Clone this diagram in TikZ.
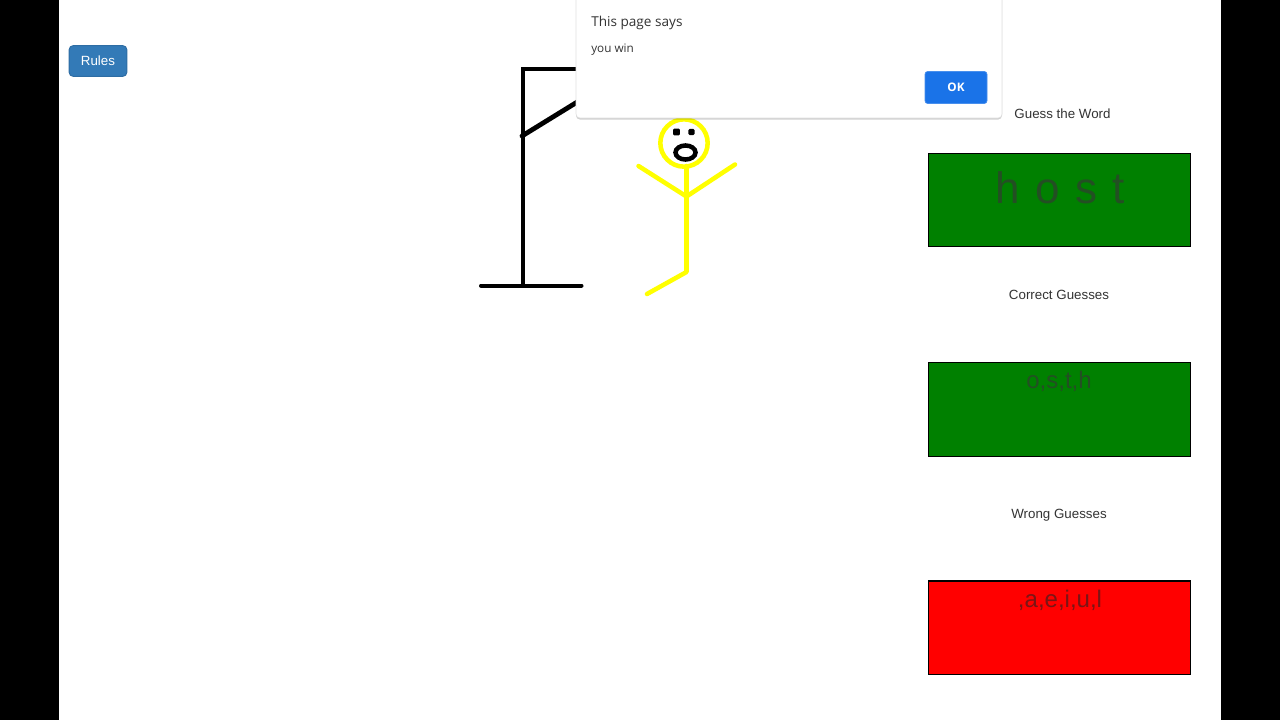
\documentclass[tikz,border=0pt]{standalone}
\usepackage{fontspec}
\setmainfont{Liberation Sans}
\newfontfamily\dialogfont{Open Sans}
\usetikzlibrary{shadows,calc,shapes.geometric}
\definecolor{btnblue}{HTML}{337AB7}
\definecolor{btnedge}{HTML}{2E6DA4}
\definecolor{okblue}{HTML}{1A73E8}
\definecolor{webgreen}{HTML}{008000}
\definecolor{txt}{HTML}{333333}
\definecolor{greentxt}{HTML}{234F23}
\definecolor{redtxt}{HTML}{7A1515}
\definecolor{figyellow}{HTML}{FFFF00}
\tikzset{
  x=0.75pt,y=-0.75pt,
  sidebar/.style={fill=black,draw=none},
  wood/.style={draw=black,line width=3pt,line cap=round,line join=miter},
  figure line/.style={draw=figyellow,line width=3.4pt,line cap=round,line join=round},
  panel/.style={draw=black,line width=0.85pt,minimum width=196.9pt,minimum height=70.2pt,inner sep=0pt},
  heading/.style={text=txt,font=\fontsize{10}{12}\selectfont,inner sep=0pt},
  guess/.style={font=\fontsize{18}{21}\selectfont,inner sep=0pt},
  dialogbox/.style={fill=white,draw=black!12,line width=0.4pt,rounded corners=3pt,
    drop shadow={shadow xshift=0pt,shadow yshift=-1.2pt,fill=black,opacity=0.18}},
}
\begin{document}
\begin{tikzpicture}
\useasboundingbox (0,0) rectangle (1280,720);
\fill[white] (0,0) rectangle (1280,720);
\path[sidebar] (0,0) rectangle (59,720);
\path[sidebar] (1221,0) rectangle (1280,720);
% Rules button
\node[fill=btnblue,draw=btnedge,line width=0.75pt,rounded corners=3pt,minimum width=43.2pt,minimum height=23pt,inner sep=0pt,
  text=white,font=\fontsize{10}{12}\selectfont] (rules) at (98,61) {Rules};
% Gallows
\coordinate (base l) at (481,285.5);
\coordinate (base r) at (581.5,285.5);
\coordinate (post b) at (522.5,285.5);
\coordinate (post t) at (522.5,69);
\coordinate (beam r) at (600,69);
\coordinate (brace b) at (522,136);
\coordinate (brace t) at (600,88);
\draw[wood] (base l) -- (base r);
\draw[wood] (post b) -- (post t) -- (beam r);
\draw[wood,line width=3.6pt] (brace b) -- (brace t);
% Figure
\coordinate (neck) at (686.5,166);
\coordinate (hip) at (686.5,272);
\coordinate (foot) at (647,294);
\coordinate (hand l) at (638.5,166);
\coordinate (hand r) at (735,164.5);
\coordinate (shoulder) at (686.5,196.5);
\draw[figure line] (neck) -- (hip) -- (foot);
\draw[figure line] (hand l) -- (shoulder) -- (hand r);
\node[draw=figyellow,line width=3.4pt,circle,minimum size=35.5pt,inner sep=0pt] (head) at (684,143) {};
\node[fill=black,rounded corners=1pt,minimum size=5.2pt,inner sep=0pt] (eye l) at (676.5,132) {};
\node[fill=black,rounded corners=1pt,minimum size=4.6pt,inner sep=0pt] (eye r) at (691.5,132) {};
\node[draw=black,line width=3.4pt,ellipse,minimum width=15pt,minimum height=10.5pt,inner sep=0pt] (mouth) at (685.5,152.5) {};
% Dialog
\path[dialogbox] (576,-12) rectangle (1002,118);
\node[anchor=west,inner sep=0pt,text=txt,font=\dialogfont\fontsize{10.2}{12}\selectfont] (title) at (591,22.5) {This page says};
\node[anchor=west,inner sep=0pt,text=txt,font=\dialogfont\fontsize{8.8}{10}\selectfont] (msg) at (591,50) {you win};
\node[fill=okblue,draw=okblue!80!white,line width=0.5pt,rounded corners=2pt,minimum width=46.5pt,minimum height=24pt,inner sep=0pt,
  text=white,font=\dialogfont\bfseries\fontsize{8.8}{10}\selectfont] (ok) at (956,87.5) {OK};
% Panels
\node[heading] (h1) at (1062.5,114) {Guess the Word};
\node[panel,fill=webgreen] (p1) at (1059.5,200) {};
\node[text=greentxt,inner sep=0pt,font=\fontsize{33}{38}\selectfont] (word) at (1060,188) {h\hspace{0.35em}o\hspace{0.35em}s\hspace{0.35em}t};
\node[heading] (h2) at (1059,295) {Correct Guesses};
\node[panel,fill=webgreen] (p2) at (1059.5,409.5) {};
\node[guess,text=greentxt] (good) at (1059,381.5) {o,s,t,h};
\node[heading] (h3) at (1059,515) {Wrong Guesses};
\node[panel,fill=red] (p3) at (1059.5,627.75) {};
\node[guess,text=redtxt] (bad) at (1060,600) {,a,e,i,u,l};
\end{tikzpicture}
\end{document}
